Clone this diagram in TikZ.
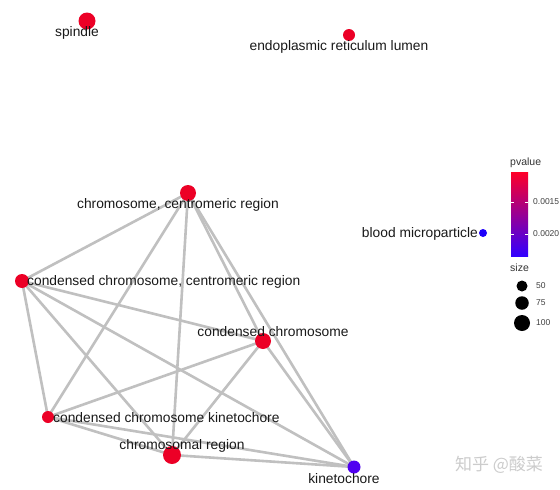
\documentclass[tikz,border=0pt]{standalone}
\usepackage{fontspec}
\setmainfont{Liberation Sans}
\newfontfamily\cjk{Noto Sans CJK SC}
\definecolor{nodered}{RGB}{236,0,38}
\definecolor{nodeblue}{RGB}{80,0,240}
\definecolor{bmblue}{RGB}{30,0,250}
\definecolor{edgegray}{RGB}{192,192,192}
\definecolor{barred}{RGB}{255,0,40}
\definecolor{barblue}{RGB}{50,0,255}
\tikzset{
  dot/.style={circle,inner sep=0pt,fill=#1,draw=none},
  lbl/.style={inner sep=0pt,font=\fontsize{13.8}{15}\selectfont,text=black!90},
  edge/.style={draw=edgegray,line width=2.6pt},
  legtxt/.style={inner sep=0pt,font=\fontsize{10.5}{12}\selectfont,text=black!80},
  legsmall/.style={inner sep=0pt,font=\fontsize{8.5}{10}\selectfont,text=black!75},
}
\begin{document}
\begin{tikzpicture}[x=1pt,y=-1pt]
\useasboundingbox[fill=white] (0,0) rectangle (560,490);
% node positions
\coordinate (sp) at (87,21);
\coordinate (er) at (349,35);
\coordinate (ccr) at (188,193);
\coordinate (cccr) at (22,281);
\coordinate (cc) at (263,341);
\coordinate (cck) at (48,417);
\coordinate (cr) at (172,455);
\coordinate (kt) at (354,467);
\coordinate (bm) at (483,233);
% edges (complete graph on the six connected terms)
\foreach \a/\b in {ccr/cccr,ccr/cc,ccr/cck,ccr/cr,ccr/kt,
                   cccr/cc,cccr/cck,cccr/cr,cccr/kt,
                   cc/cck,cc/cr,cc/kt,
                   cck/cr,cck/kt,
                   cr/kt}
  \draw[edge] (\a) -- (\b);
% dots
\node[dot=nodered,minimum size=17pt] (nsp) at (sp) {};
\node[dot=nodered,minimum size=12pt] (ner) at (er) {};
\node[dot=nodered,minimum size=16pt] (nccr) at (ccr) {};
\node[dot=nodered,minimum size=14pt] (ncccr) at (cccr) {};
\node[dot=nodered,minimum size=16pt] (ncc) at (cc) {};
\node[dot=nodered,minimum size=12pt] (ncck) at (cck) {};
\node[dot=nodered,minimum size=18pt] (ncr) at (cr) {};
\node[dot=nodeblue,minimum size=13pt] (nkt) at (kt) {};
\node[dot=bmblue,minimum size=8pt] (nbm) at (bm) {};
% labels
\node[lbl] (tsp) at (77,33) {spindle};
\node[lbl] (ter) at (339,47) {endoplasmic reticulum lumen};
\node[lbl] (tccr) at (178,205) {chromosome, centromeric region};
\node[lbl,anchor=west] (tcccr) at (27,282) {condensed chromosome, centromeric region};
\node[lbl] (tcc) at (273,332) {condensed chromosome};
\node[lbl,anchor=west] (tcck) at (53,418) {condensed chromosome kinetochore};
\node[lbl] (tcr) at (182,446) {chromosomal region};
\node[lbl] (tkt) at (344,479) {kinetochore};
\node[lbl,anchor=east] (tbm) at (478,234) {blood microparticle};
% legend: pvalue
\node[legtxt,anchor=west] (pv) at (510,163) {pvalue};
\shade[top color=barred,bottom color=barblue] (511,172) rectangle (528,256);
\draw[white,line width=0.4pt] (511,202) -- (514,202) (525,202) -- (528,202);
\draw[white,line width=0.4pt] (511,234) -- (514,234) (525,234) -- (528,234);
\node[legsmall,anchor=west] (p1) at (533,202) {0.0015};
\node[legsmall,anchor=west] (p2) at (533,234) {0.0020};
% legend: size
\node[legtxt,anchor=west] (sz) at (510,268) {size};
\node[dot=black,minimum size=11pt] (s1) at (522,286) {};
\node[dot=black,minimum size=13.5pt] (s2) at (522,303) {};
\node[dot=black,minimum size=16pt] (s3) at (522,323) {};
\node[legsmall,anchor=west] (l1) at (536,286) {50};
\node[legsmall,anchor=west] (l2) at (536,303) {75};
\node[legsmall,anchor=west] (l3) at (536,323) {100};
% watermark
\node[inner sep=0pt,font=\cjk\fontsize{17}{19}\selectfont,text=black!20] (wm) at (499,465) {知乎 @酸菜};
\end{tikzpicture}
\end{document}
